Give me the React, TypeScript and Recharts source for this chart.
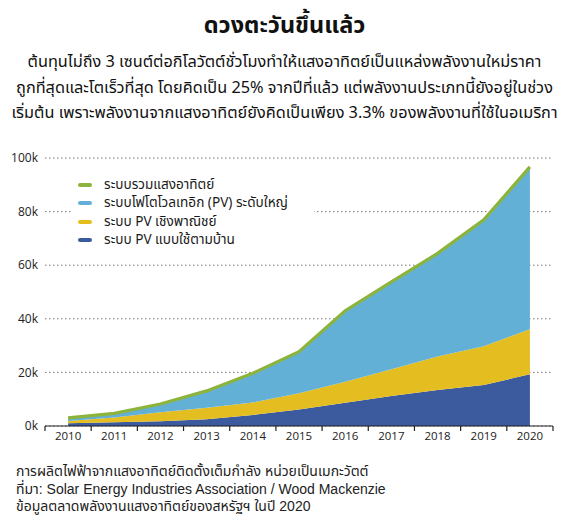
import {
  Area,
  CartesianGrid,
  ComposedChart,
  Line,
  XAxis,
  YAxis,
} from "recharts";

const years = ["2010", "2011", "2012", "2013", "2014", "2015", "2016", "2017", "2018", "2019", "2020"];
// cumulative installed capacity, MW
const residential = [1000, 1400, 1750, 2500, 4100, 6200, 8700, 11200, 13400, 15300, 19300];
const commercial = [900, 1800, 3350, 4300, 4700, 6000, 7800, 10000, 12500, 14500, 16800];
const utility = [1100, 1500, 3100, 6300, 10900, 15500, 26500, 32600, 38500, 47100, 60600];
const total = [3000, 4700, 8200, 13100, 19700, 27700, 43000, 53800, 64400, 76900, 96700];
const yTicks = [0, 20000, 40000, 60000, 80000, 100000];

const legendItems = [
  { label: "ระบบรวมแสงอาทิตย์", color: "#8cb43c" },
  { label: "ระบบโฟโตโวลเทอิก (PV) ระดับใหญ่", color: "#63b0d6" },
  { label: "ระบบ PV เชิงพาณิชย์", color: "#e4be20" },
  { label: "ระบบ PV แบบใช้ตามบ้าน", color: "#3c5a9e" },
];

const data = years.map((year, i) => ({
  year,
  residential: residential[i],
  commercial: commercial[i],
  utility: utility[i],
  total: total[i],
}));

const FONT = "'Noto Sans Thai', 'Noto Sans', sans-serif";
const HALF_STEP = 23.09;

function YearTick(props: any) {
  const { x, y, payload, index } = props;
  return (
    <g>
      <line x1={x - HALF_STEP} y1={y} x2={x - HALF_STEP} y2={y + 5} stroke="#222" strokeWidth={1.2} />
      {index === years.length - 1 && (
        <line x1={x + HALF_STEP} y1={y} x2={x + HALF_STEP} y2={y + 5} stroke="#222" strokeWidth={1.2} />
      )}
      <text x={x} y={y + 14} textAnchor="middle" fontSize={11.5} fill="#222" fontFamily="'Open Sans', sans-serif">
        {payload.value}
      </text>
    </g>
  );
}

function LegendBox() {
  return (
    <div style={{ position: "absolute", left: 72, top: 176, width: 230, background: "#fff", padding: "0 6px" }}>
      {legendItems.map((item) => (
        <div key={item.label} style={{ display: "flex", alignItems: "center", height: 18.3, overflow: "visible" }}>
          <span
            style={{
              display: "inline-block",
              width: 14,
              height: 4,
              borderRadius: 2,
              background: item.color,
              marginRight: 12,
              flexShrink: 0,
            }}
          />
          <span style={{ fontSize: 13.6, lineHeight: "16px", color: "#1a1a1a", whiteSpace: "nowrap" }}>{item.label}</span>
        </div>
      ))}
    </div>
  );
}

export default function App() {
  return (
    <div style={{ position: "absolute", left: 0, top: 0, width: 569, height: 525, background: "#fff", fontFamily: FONT }}>
      <div style={{ position: "absolute", top: 8, width: 569, textAlign: "center", fontSize: 23.5, fontWeight: 700, color: "#111" }}>
        ดวงตะวันขึ้นแล้ว
      </div>
      <div
        style={{
          position: "absolute",
          top: 50,
          width: 569,
          textAlign: "center",
          fontSize: 16.3,
          lineHeight: "25.5px",
          color: "#111",
          whiteSpace: "nowrap",
        }}
      >
        ต้นทุนไม่ถึง 3 เซนต์ต่อกิโลวัตต์ชั่วโมงทำให้แสงอาทิตย์เป็นแหล่งพลังงานใหม่ราคา
        <br />
        ถูกที่สุดและโตเร็วที่สุด โดยคิดเป็น 25% จากปีที่แล้ว แต่พลังงานประเภทนี้ยังอยู่ในช่วง
        <br />
        เริ่มต้น เพราะพลังงานจากแสงอาทิตย์ยังคิดเป็นเพียง 3.3% ของพลังงานที่ใช้ในอเมริกา
      </div>
      <div style={{ position: "absolute", left: 0, top: 0 }}>
        <ComposedChart width={569} height={525} data={data} margin={{ top: 158, right: 16, bottom: 0, left: 0 }}>
          <CartesianGrid vertical={false} stroke="#777" strokeDasharray="1.5 2.5" />
          <XAxis
            dataKey="year"
            height={99}
            padding={{ left: HALF_STEP, right: HALF_STEP }}
            axisLine={{ stroke: "#222", strokeWidth: 1.2 }}
            tickLine={false}
            tickSize={0}
            tickMargin={0}
            interval={0}
            tick={<YearTick />}
          />
          <YAxis
            width={45}
            domain={[0, 100000]}
            ticks={yTicks}
            tickFormatter={(v: number) => `${v / 1000}k`}
            axisLine={false}
            tickLine={false}
            tickSize={0}
            tickMargin={7}
            tick={{ fontSize: 12, fill: "#222", fontFamily: "'Open Sans', sans-serif" }}
          />
          <Area dataKey="residential" stackId="s" stroke="none" fill="#3c5a9e" fillOpacity={1} isAnimationActive={false} />
          <Area dataKey="commercial" stackId="s" stroke="none" fill="#e4be20" fillOpacity={1} isAnimationActive={false} />
          <Area dataKey="utility" stackId="s" stroke="none" fill="#63b0d6" fillOpacity={1} isAnimationActive={false} />
          <Line dataKey="total" stroke="#8cb43c" strokeWidth={3.2} dot={false} isAnimationActive={false} />
        </ComposedChart>
      </div>
      <LegendBox />
      <div
        style={{
          position: "absolute",
          left: 16,
          top: 463,
          fontSize: 14,
          lineHeight: "17.5px",
          color: "#222",
          fontFamily: "'Liberation Sans', " + FONT,
          whiteSpace: "nowrap",
        }}
      >
        การผลิตไฟฟ้าจากแสงอาทิตย์ติดตั้งเต็มกำลัง หน่วยเป็นเมกะวัตต์
        <br />
        ที่มา: Solar Energy Industries Association / Wood Mackenzie
        <br />
        ข้อมูลตลาดพลังงานแสงอาทิตย์ของสหรัฐฯ ในปี 2020
      </div>
    </div>
  );
}
